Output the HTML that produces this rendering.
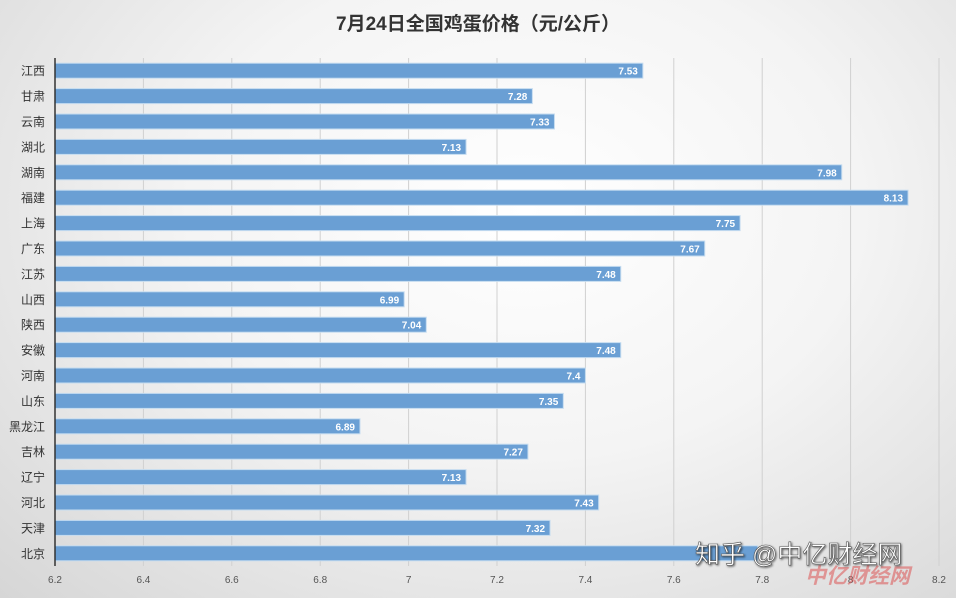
<!DOCTYPE html>
<html><head><meta charset="utf-8">
<style>
body{margin:0;width:956px;height:598px;overflow:hidden;}
#wrap{position:relative;width:956px;height:598px;background:radial-gradient(ellipse at 55% 35%,#ffffff 0%,#f4f4f4 45%,#d6d6d6 100%);font-family:"Liberation Sans","Noto Sans CJK SC",sans-serif;}
</style></head><body>
<div id="wrap">
<svg id="chart" width="956" height="598">
<defs><filter id="sh"><feDropShadow dx="1" dy="1" stdDeviation="1" flood-color="#000" flood-opacity="0.6"/></filter></defs>
</svg>
</div>
<script>
const categories=["江西","甘肃","云南","湖北","湖南","福建","上海","广东","江苏","山西","陕西","安徽","河南","山东","黑龙江","吉林","辽宁","河北","天津","北京"];
const values=[7.53,7.28,7.33,7.13,7.98,8.13,7.75,7.67,7.48,6.99,7.04,7.48,7.4,7.35,6.89,7.27,7.13,7.43,7.32,7.79];
const labels=["7.53","7.28","7.33","7.13","7.98","8.13","7.75","7.67","7.48","6.99","7.04","7.48","7.4","7.35","6.89","7.27","7.13","7.43","7.32",""];
const ticks=[6.2,6.4,6.6,6.8,7,7.2,7.4,7.6,7.8,8,8.2];
const tickLabels=["6.2","6.4","6.6","6.8","7","7.2","7.4","7.6","7.8","8","8.2"];
const NS="http://www.w3.org/2000/svg";
const svg=document.getElementById('chart');
const x0=55,x1=939,vmin=6.2,vmax=8.2,yTop=58,yBot=566;
function xs(v){return x0+(v-vmin)/(vmax-vmin)*(x1-x0);}
const step=(yBot-yTop)/categories.length;
function yc(i){return yTop+step*(i+0.5);}
function mk(t,a){const e=document.createElementNS(NS,t);for(const k in a)e.setAttribute(k,a[k]);svg.appendChild(e);return e;}
const title=mk('text',{x:478,y:30,'text-anchor':'middle','font-size':19,'font-weight':'bold',fill:'#333'});
title.textContent="7月24日全国鸡蛋价格（元/公斤）";


ticks.forEach((t,i)=>{
 if(i>0){const g=mk('line',{x1:xs(t),x2:xs(t),y1:yTop,y2:yBot,stroke:'#d0d0d0','stroke-width':1});
 
 }
 const l=mk('text',{x:xs(t),y:583,'text-anchor':'middle','font-size':10,fill:'#555'});
 l.textContent=tickLabels[i];
 
 
});
categories.forEach((c,i)=>{
 const y=yc(i);
 const b=mk('rect',{x:x0,y:y-7.5,width:xs(values[i])-x0,height:15,fill:'#6a9fd4',stroke:'#c5dcf0','stroke-width':1});
 
 
 const cl=mk('text',{x:45,y:y+4.5,'text-anchor':'end','font-size':12,fill:'#333'});
 cl.textContent=c;
 
 
 if(labels[i]){const v=mk('text',{x:xs(values[i])-5,y:y+4,'text-anchor':'end','font-size':10,'font-weight':'bold',fill:'#fff'});
 v.textContent=labels[i];
 
 }
});
const ax=mk('line',{x1:x0,x2:x0,y1:yTop,y2:yBot,stroke:'#333','stroke-width':1.5});


const wm2=mk('text',{x:805,y:583,'font-size':21,'font-weight':'bold','font-style':'italic',fill:'#d55','opacity':0.55});
wm2.textContent="中亿财经网";


const wm=mk('text',{x:695,y:563,'font-size':25,fill:'#fff',stroke:'#555','stroke-width':0.6,filter:'url(#sh)'});
wm.textContent="知乎 @中亿财经网";


</script>
</body></html>
